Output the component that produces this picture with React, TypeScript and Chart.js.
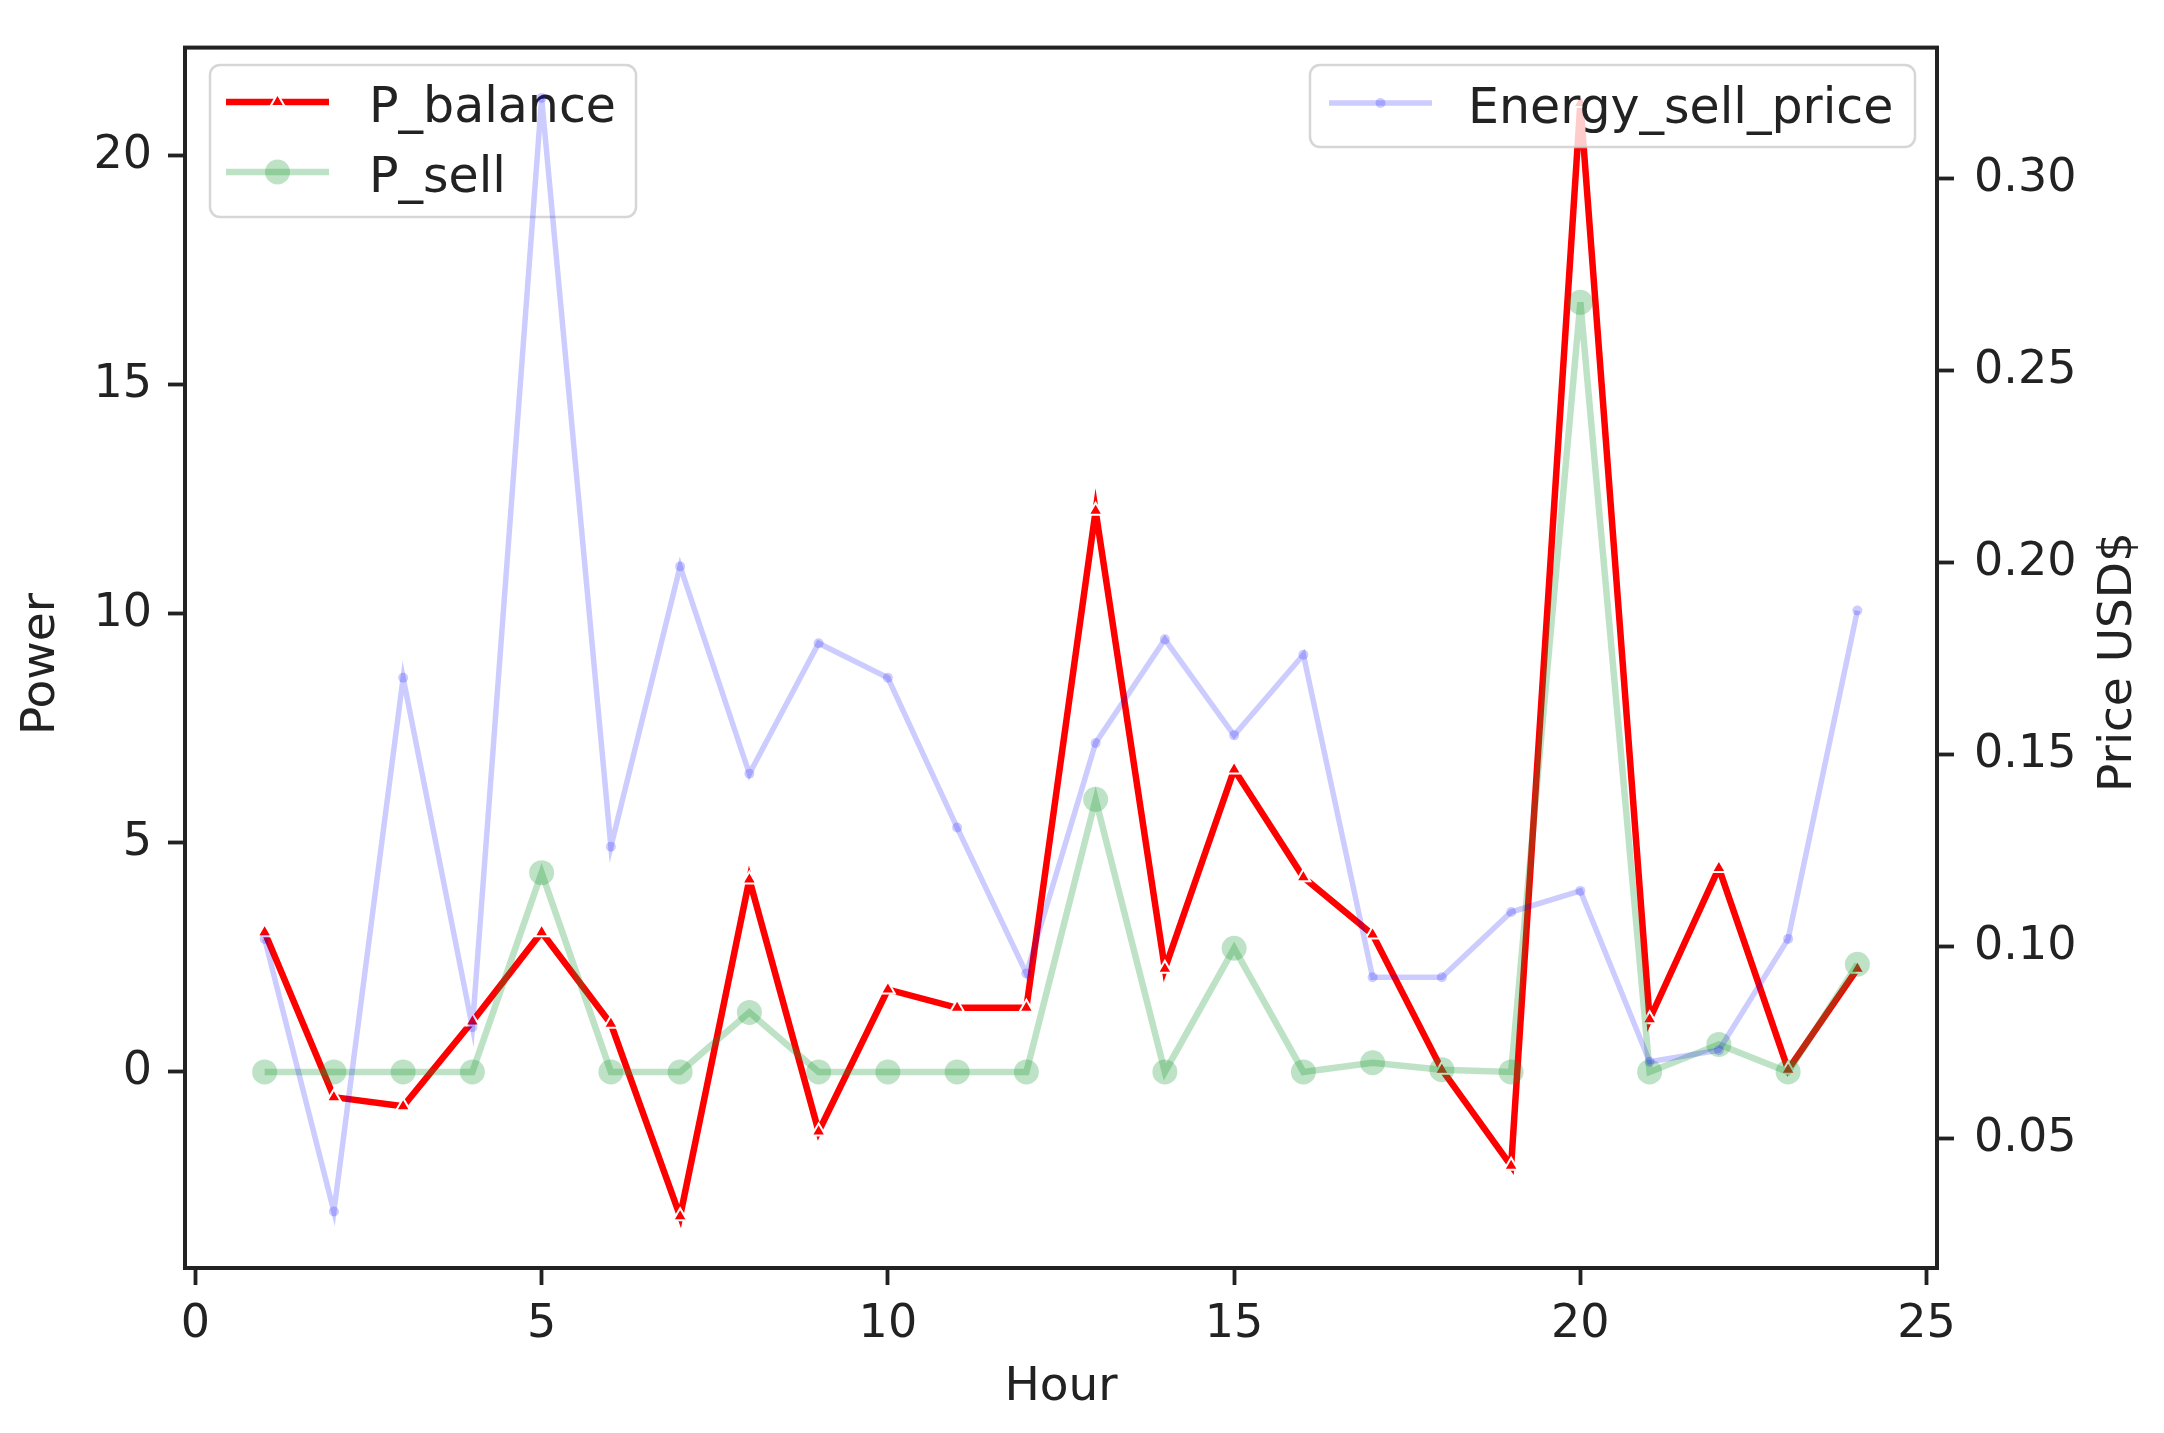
import React, { useEffect, useRef } from "react";
import { Chart, registerables } from "chart.js";

Chart.register(...registerables);

const hours = [1, 2, 3, 4, 5, 6, 7, 8, 9, 10, 11, 12, 13, 14, 15, 16, 17, 18, 19, 20, 21, 22, 23, 24];
const pBalance = [3.05, -0.55, -0.75, 1.1, 3.05, 1.05, -3.15, 4.2, -1.3, 1.8, 1.4, 1.4, 12.25, 2.25, 6.6, 4.25, 3.0, 0.05, -2.05, 21.15, 1.15, 4.45, 0.05, 2.25];
const pSell = [0, 0, 0, 0, 4.35, 0, 0, 1.3, 0, 0, 0, 0, 5.95, 0, 2.7, 0, 0.2, 0.05, 0, 16.8, 0, 0.6, 0, 2.35];
const sellPrice = [0.102, 0.031, 0.17, 0.079, 0.321, 0.126, 0.199, 0.145, 0.179, 0.17, 0.131, 0.093, 0.153, 0.18, 0.155, 0.176, 0.092, 0.092, 0.109, 0.1145, 0.07, 0.073, 0.102, 0.1875];

const xTicks = [0, 5, 10, 15, 20, 25];
const powerTicks = [0, 5, 10, 15, 20];
const priceTicks = [0.05, 0.1, 0.15, 0.2, 0.25, 0.3];

const FONT = "'DejaVu Sans', 'Liberation Sans', sans-serif";
const TEXT = "#222222";
const W = 2164;
const H = 1433;

const RED = "#ff0000";
const GREEN = "rgba(20,150,45,0.28)";
const BLUE = "rgba(0,0,255,0.2)";

function drawMarker(ctx: CanvasRenderingContext2D, style: string, x: number, y: number, r: number, fill: string, stroke: string | null, lw: number) {
  ctx.save();
  ctx.beginPath();
  if (style === "triangle") {
    let rad = 0;
    ctx.moveTo(x + Math.sin(rad) * r, y - Math.cos(rad) * r);
    rad += (2 * Math.PI) / 3;
    ctx.lineTo(x + Math.sin(rad) * r, y - Math.cos(rad) * r);
    rad += (2 * Math.PI) / 3;
    ctx.lineTo(x + Math.sin(rad) * r, y - Math.cos(rad) * r);
    ctx.closePath();
  } else {
    ctx.arc(x, y, r, 0, Math.PI * 2);
  }
  ctx.fillStyle = fill;
  ctx.fill();
  if (stroke && lw > 0) {
    ctx.lineWidth = lw;
    ctx.strokeStyle = stroke;
    ctx.stroke();
  }
  ctx.restore();
}

type Entry = { label: string; color: string; width: number; style: string; r: number; mfill: string; mstroke: string | null; mlw: number };

function drawLegend(ctx: CanvasRenderingContext2D, box: { x: number; y: number; w: number; h: number }, entries: Entry[], rows: number[], sx1: number, sx2: number, tx: number) {
  ctx.save();
  const r = 10;
  ctx.beginPath();
  ctx.moveTo(box.x + r, box.y);
  ctx.arcTo(box.x + box.w, box.y, box.x + box.w, box.y + box.h, r);
  ctx.arcTo(box.x + box.w, box.y + box.h, box.x, box.y + box.h, r);
  ctx.arcTo(box.x, box.y + box.h, box.x, box.y, r);
  ctx.arcTo(box.x, box.y, box.x + box.w, box.y, r);
  ctx.closePath();
  ctx.fillStyle = "rgba(255,255,255,0.8)";
  ctx.fill();
  ctx.lineWidth = 2.5;
  ctx.strokeStyle = "rgba(204,204,204,0.8)";
  ctx.stroke();
  entries.forEach((e, i) => {
    const y = rows[i];
    ctx.beginPath();
    ctx.moveTo(sx1, y);
    ctx.lineTo(sx2, y);
    ctx.strokeStyle = e.color;
    ctx.lineWidth = e.width;
    ctx.stroke();
    drawMarker(ctx, e.style, (sx1 + sx2) / 2, y, e.r, e.mfill, e.mstroke, e.mlw);
    ctx.fillStyle = TEXT;
    ctx.font = `49px ${FONT}`;
    ctx.textAlign = "left";
    ctx.textBaseline = "middle";
    ctx.fillText(e.label, tx, y + 7);
  });
  ctx.restore();
}

const balanceEntry: Entry = { label: "P_balance", color: RED, width: 6.5, style: "triangle", r: 8, mfill: RED, mstroke: "#ffffff", mlw: 2 };
const sellEntry: Entry = { label: "P_sell", color: GREEN, width: 6.5, style: "circle", r: 12.5, mfill: GREEN, mstroke: null, mlw: 0 };
const priceEntry: Entry = { label: "Energy_sell_price", color: BLUE, width: 5.5, style: "circle", r: 5, mfill: BLUE, mstroke: null, mlw: 0 };

const decor = {
  id: "mplDecor",
  afterDatasetDraw(chart: any, args: any) {
    if (args.index === 1) {
      drawLegend(chart.ctx, { x: 210, y: 65, w: 426, h: 152 }, [balanceEntry, sellEntry], [102, 172], 226, 329, 369);
    }
  },
  afterDatasetsDraw(chart: any) {
    const ctx: CanvasRenderingContext2D = chart.ctx;
    drawLegend(ctx, { x: 1310, y: 65, w: 605, h: 82 }, [priceEntry], [103], 1329, 1432, 1468);
    const a = chart.chartArea;
    ctx.save();
    ctx.strokeStyle = TEXT;
    ctx.lineWidth = 4;
    ctx.strokeRect(a.left, a.top, a.right - a.left, a.bottom - a.top);
    ctx.restore();
  },
  afterDraw(chart: any) {
    const ctx: CanvasRenderingContext2D = chart.ctx;
    const a = chart.chartArea;
    ctx.save();
    ctx.fillStyle = TEXT;
    ctx.font = `47px ${FONT}`;
    ctx.textAlign = "center";
    ctx.textBaseline = "middle";
    ctx.fillText("Hour", (a.left + a.right) / 2, 1388);
    ctx.save();
    ctx.translate(42, 664);
    ctx.rotate(-Math.PI / 2);
    ctx.fillText("Power", 0, 0);
    ctx.restore();
    ctx.save();
    ctx.translate(2119, 662);
    ctx.rotate(-Math.PI / 2);
    ctx.fillText("Price USD$", 0, 0);
    ctx.restore();
    ctx.restore();
  },
};

const tickGrid = {
  display: true,
  drawOnChartArea: false,
  drawTicks: true,
  tickLength: 17,
  tickWidth: 3.8,
  tickColor: TEXT,
  color: TEXT,
};

export default function App() {
  const ref = useRef<HTMLCanvasElement | null>(null);
  useEffect(() => {
    if (!ref.current) return;
    const chart = new Chart(ref.current, {
      type: "line",
      data: {
        datasets: [
          {
            label: "P_balance",
            data: hours.map((h, i) => ({ x: h, y: pBalance[i] })),
            borderColor: RED,
            backgroundColor: RED,
            borderWidth: 6.5,
            pointStyle: "triangle",
            pointRadius: 8,
            pointBackgroundColor: RED,
            pointBorderColor: "#ffffff",
            pointBorderWidth: 2,
            yAxisID: "y",
            order: 3,
            tension: 0,
          },
          {
            label: "P_sell",
            data: hours.map((h, i) => ({ x: h, y: pSell[i] })),
            borderColor: GREEN,
            backgroundColor: GREEN,
            borderWidth: 6.5,
            pointStyle: "circle",
            pointRadius: 12.5,
            pointBackgroundColor: GREEN,
            pointBorderWidth: 0,
            yAxisID: "y",
            order: 2,
            tension: 0,
          },
          {
            label: "Energy_sell_price",
            data: hours.map((h, i) => ({ x: h, y: sellPrice[i] })),
            borderColor: BLUE,
            backgroundColor: BLUE,
            borderWidth: 5.5,
            pointStyle: "circle",
            pointRadius: 5,
            pointBackgroundColor: BLUE,
            pointBorderWidth: 0,
            yAxisID: "y1",
            order: 1,
            tension: 0,
          },
        ],
      },
      options: {
        animation: false,
        responsive: false,
        devicePixelRatio: 1,
        layout: { padding: { top: 42, left: 0, right: 0, bottom: 0 } },
        plugins: { legend: { display: false }, tooltip: { enabled: false } },
        scales: {
          x: {
            type: "linear",
            position: "bottom",
            min: -0.15,
            max: 25.15,
            afterBuildTicks: (s: any) => {
              s.ticks = xTicks.map((v) => ({ value: v }));
            },
            afterFit: (s: any) => {
              s.height = H - 1268;
            },
            grid: tickGrid,
            border: { display: false },
            ticks: { font: { family: FONT, size: 46 }, color: TEXT, padding: 12, maxRotation: 0, autoSkip: false },
          },
          y: {
            type: "linear",
            position: "left",
            min: -4.28,
            max: 22.36,
            afterBuildTicks: (s: any) => {
              s.ticks = powerTicks.map((v) => ({ value: v }));
            },
            afterFit: (s: any) => {
              s.width = 185;
            },
            grid: tickGrid,
            border: { display: false },
            ticks: { font: { family: FONT, size: 46 }, color: TEXT, padding: 16, autoSkip: false },
          },
          y1: {
            type: "linear",
            position: "right",
            min: 0.0163,
            max: 0.3341,
            afterBuildTicks: (s: any) => {
              s.ticks = priceTicks.map((v) => ({ value: v }));
            },
            afterFit: (s: any) => {
              s.width = W - 1937;
            },
            grid: tickGrid,
            border: { display: false },
            ticks: {
              font: { family: FONT, size: 46 },
              color: TEXT,
              padding: 20,
              autoSkip: false,
              callback: (v: any) => Number(v).toFixed(2),
            },
          },
        },
      },
      plugins: [decor],
    } as any);
    return () => chart.destroy();
  }, []);
  return (
    <div style={{ position: "absolute", left: 0, top: 0, width: W, height: H, background: "#ffffff" }}>
      <canvas ref={ref} width={W} height={H} style={{ display: "block", width: W, height: H }} />
    </div>
  );
}
